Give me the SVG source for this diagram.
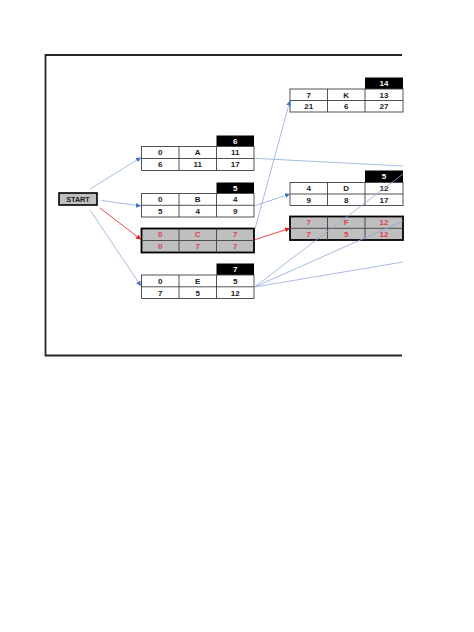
<svg xmlns="http://www.w3.org/2000/svg" width="474" height="632" viewBox="0 0 474 632">
<style>
text{font-family:"Liberation Sans",Arial,sans-serif;font-weight:bold;font-size:8px;text-anchor:middle;fill:#1a1a1a}
.ht{fill:#ffffff}
.rt{fill:#e0404f}
.hdr{fill:#000000}
.cell{fill:#ffffff;stroke:#404040;stroke-width:0.9}
.crit{fill:#bfbfbf;stroke:#000000;stroke-width:1.8}
.grid{stroke:#404040;stroke-width:0.9}
.blue{stroke:#8eaad8;stroke-width:0.8;fill:none}
.red{stroke:#e8343a;stroke-width:0.9;fill:none}
</style>
<defs>
<marker id="ab" markerUnits="userSpaceOnUse" markerWidth="6" markerHeight="6" refX="5" refY="2.5" orient="auto"><path d="M0,0 L5,2.5 L0,5 Z" fill="#4472c4"/></marker>
<marker id="ar" markerUnits="userSpaceOnUse" markerWidth="6" markerHeight="6" refX="5" refY="2.5" orient="auto"><path d="M0,0 L5,2.5 L0,5 Z" fill="#e02020"/></marker>
<clipPath id="clip"><rect x="0" y="0" width="403" height="632"/></clipPath>
</defs>
<rect width="474" height="632" fill="#ffffff"/>
<g id="frame"><path d="M402,55 H45.5 V355.5 H402" fill="none" stroke="#262626" stroke-width="1.8"/></g>

<g id="node-start">
<rect x="59" y="193" width="38" height="12" fill="#bfbfbf" stroke="#000" stroke-width="1.6"/>
<text x="78" y="201.6" style="font-size:7.2px">START</text>
</g>

<g id="node-A">
<rect class="hdr" x="216.5" y="135.5" width="37.5" height="11"/>
<text class="ht" x="235.25" y="143.8">6</text>
<rect class="cell" x="141.5" y="146.5" width="112.5" height="24"/>
<path class="grid" d="M141.5,158.5 H254 M179,146.5 V170.5 M216.5,146.5 V170.5"/>
<text x="160.25" y="155.4">0</text><text x="197.75" y="155.4">A</text><text x="235.25" y="155.4">11</text>
<text x="160.25" y="167.4">6</text><text x="197.75" y="167.4">11</text><text x="235.25" y="167.4">17</text>
</g>

<g id="node-B">
<rect class="hdr" x="216.5" y="182.5" width="37.5" height="11"/>
<text class="ht" x="235.25" y="190.8">5</text>
<rect class="cell" x="141.5" y="193.5" width="112.5" height="23.5"/>
<path class="grid" d="M141.5,205.3 H254 M179,193.5 V217 M216.5,193.5 V217"/>
<text x="160.25" y="202.3">0</text><text x="197.75" y="202.3">B</text><text x="235.25" y="202.3">4</text>
<text x="160.25" y="214.1">5</text><text x="197.75" y="214.1">4</text><text x="235.25" y="214.1">9</text>
</g>

<g id="node-C">
<rect class="crit" x="141.5" y="228.5" width="112.5" height="24"/>
<path class="grid" d="M141.5,240.5 H254 M179,228.5 V252.5 M216.5,228.5 V252.5"/>
<text class="rt" x="160.25" y="237.4">0</text><text class="rt" x="197.75" y="237.4">C</text><text class="rt" x="235.25" y="237.4">7</text>
<text class="rt" x="160.25" y="249.4">0</text><text class="rt" x="197.75" y="249.4">7</text><text class="rt" x="235.25" y="249.4">7</text>
</g>

<g id="node-E">
<rect class="hdr" x="216.5" y="263.5" width="37.5" height="11.5"/>
<text class="ht" x="235.25" y="272">7</text>
<rect class="cell" x="141.5" y="275" width="112.5" height="23.5"/>
<path class="grid" d="M141.5,286.8 H254 M179,275 V298.5 M216.5,275 V298.5"/>
<text x="160.25" y="283.8">0</text><text x="197.75" y="283.8">E</text><text x="235.25" y="283.8">5</text>
<text x="160.25" y="295.6">7</text><text x="197.75" y="295.6">5</text><text x="235.25" y="295.6">12</text>
</g>

<g id="node-K">
<rect class="hdr" x="365" y="77.5" width="38" height="11.5"/>
<text class="ht" x="384" y="86">14</text>
<rect class="cell" x="290" y="89" width="113" height="23"/>
<path class="grid" d="M290,100.5 H403 M327.5,89 V112 M365,89 V112"/>
<text x="308.75" y="97.7">7</text><text x="346.25" y="97.7">K</text><text x="384" y="97.7">13</text>
<text x="308.75" y="109.2">21</text><text x="346.25" y="109.2">6</text><text x="384" y="109.2">27</text>
</g>

<g id="node-D">
<rect class="hdr" x="365" y="170.5" width="38" height="12"/>
<text class="ht" x="384" y="179.3">5</text>
<rect class="cell" x="290" y="182.5" width="113" height="23"/>
<path class="grid" d="M290,194 H403 M327.5,182.5 V205.5 M365,182.5 V205.5"/>
<text x="308.75" y="191.2">4</text><text x="346.25" y="191.2">D</text><text x="384" y="191.2">12</text>
<text x="308.75" y="202.7">9</text><text x="346.25" y="202.7">8</text><text x="384" y="202.7">17</text>
</g>

<g id="node-F">
<rect class="crit" x="290" y="216.5" width="113" height="23.5"/>
<path class="grid" d="M290,228.3 H403 M327.5,216.5 V240 M365,216.5 V240"/>
<text class="rt" x="308.75" y="225.3">7</text><text class="rt" x="346.25" y="225.3">F</text><text class="rt" x="384" y="225.3">12</text>
<text class="rt" x="308.75" y="237.1">7</text><text class="rt" x="346.25" y="237.1">5</text><text class="rt" x="384" y="237.1">12</text>
</g>

<g id="connectors" clip-path="url(#clip)">
<line class="blue" x1="90" y1="189" x2="141" y2="157.5" marker-end="url(#ab)"/>
<line class="blue" x1="101.5" y1="200.5" x2="141" y2="206" marker-end="url(#ab)"/>
<line class="red" x1="100" y1="208" x2="141" y2="239.5" marker-end="url(#ar)"/>
<line class="blue" x1="90" y1="210" x2="141" y2="286" marker-end="url(#ab)"/>
<line class="blue" x1="254" y1="158.3" x2="403" y2="166"/>
<line class="blue" x1="254" y1="206" x2="290" y2="194" marker-end="url(#ab)"/>
<line class="red" x1="254" y1="240" x2="290" y2="228.3" marker-end="url(#ar)"/>
<line class="blue" x1="255" y1="229" x2="290" y2="100.5" marker-end="url(#ab)"/>
<line class="blue" x1="254.5" y1="287" x2="403" y2="174"/>
<line class="blue" x1="254.5" y1="287" x2="403" y2="221"/>
<line class="blue" x1="254.5" y1="287" x2="403" y2="262"/>
</g>
</svg>
